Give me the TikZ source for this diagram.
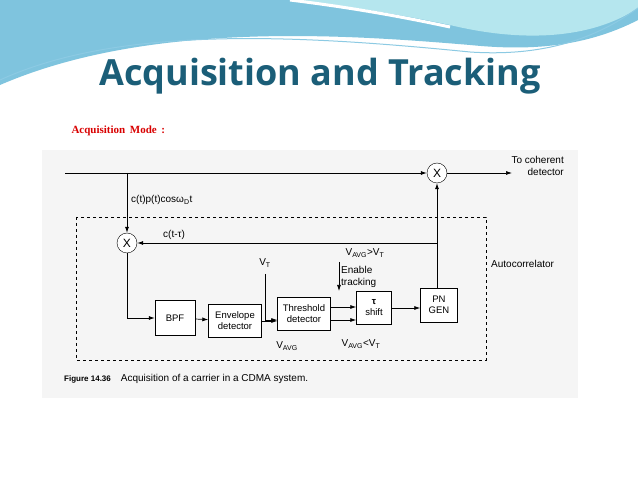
\documentclass[tikz,border=0pt]{standalone}
\usepackage{fontspec}
\setmainfont{Liberation Serif}
\newfontfamily\hv{Liberation Sans}
\newfontfamily\titlef{Open Sans}
\usetikzlibrary{arrows.meta}
\definecolor{titlec}{HTML}{1B5E78}
\definecolor{wave1}{HTML}{7FC4DE}
\definecolor{wave2}{HTML}{B5E6EE}
\newcommand{\sbs}[1]{\textsubscript{#1}}
\begin{document}
\begin{tikzpicture}[x=1pt,y=-1pt,
  blk/.style={draw,fill=white,font=\hv\fontsize{9.5}{11}\selectfont,align=center,inner sep=1pt},
  mix/.style={draw,circle,fill=white,minimum size=20pt,inner sep=0pt,font=\hv\fontsize{12}{12}\selectfont},
  lbl/.style={font=\hv\fontsize{10}{11.5}\selectfont,inner sep=0pt},
  ar/.style={-{Latex[length=6pt,width=4pt]},line width=0.7pt},
  ln/.style={line width=0.7pt}]
\useasboundingbox (0,0) rectangle (638,478);
\fill[white] (0,0) rectangle (638,478);
% header waves
\fill[wave1] (0,0) -- (638,0) -- (638,20) .. controls (580,50) and (520,50) .. (470,45) .. controls (350,35) and (150,20) .. (0,85) -- cycle;
\fill[wave2] (290,0) -- (638,0) -- (638,8) .. controls (590,40) and (520,42) .. (450,25) .. controls (380,10) and (320,3) .. (290,0) -- cycle;
\draw[white,line width=3pt] (290,0) .. controls (330,5) and (380,12) .. (450,27);
\draw[cyan!60!teal!50,line width=1pt] (0,80) .. controls (120,25) and (300,35) .. (470,52) .. controls (560,58) and (610,28) .. (638,8);
\node[font=\titlef\bfseries\fontsize{36}{40}\selectfont,text=titlec] (title) at (320,76) {Acquisition and Tracking};
\node[font=\bfseries\fontsize{11}{13}\selectfont,text=red!85!black,anchor=west] (mode) at (68,131) {Acquisition\, Mode\, :};
% panel
\fill[black!4] (42,150) rectangle (578,398);
\draw[dashed,ln] (76,217) rectangle (486,360);
\node[mix] (m2) at (437,173) {X};
\node[mix] (m1) at (127,243) {X};
\node[blk,minimum width=40pt,minimum height=35pt] (bpf) at (175,318) {BPF};
\node[blk,minimum width=53pt,minimum height=33pt] (env) at (235,321) {Envelope\\detector};
\node[blk,minimum width=53pt,minimum height=33pt] (thr) at (304,314) {Threshold\\detector};
\node[blk,minimum width=35pt,minimum height=33pt] (sh) at (374,308) {{\bfseries τ}\\shift};
\node[blk,minimum width=37pt,minimum height=34pt] (pn) at (439,305) {PN\\GEN};
\coordinate (in) at (65,173);
\coordinate (br) at (127,173);
\coordinate (out) at (512,173);
\coordinate (vt) at (265,274);
\coordinate (en) at (339,262);
\draw[ln] (in) -- (br);
\draw[ar] (br) -- (m2);
\draw[ar] (br) -- (m1);
\draw[ar] (m2) -- (out);
\draw[ar] (m1) |- (bpf);
\draw[ar] (bpf) -- (env);
\draw[ar] (env.east) -- (env.east -| thr.west);
\draw[ar] (vt) |- ([yshift=-6pt]thr.west);
\draw[ar] ([yshift=-6pt]thr.east) -- ([yshift=-6pt]thr.east -| sh.west);
\draw[ar] ([yshift=7pt]thr.east) -- ([yshift=7pt]thr.east -| sh.west);
\draw[ar] (sh.east) -- (sh.east -| pn.west);
\draw[ar] (en) -- (339,291);
\draw[ar] (pn.north -| m2) -- (m2);
\draw[ar] (m2 |- 0,243) -- (m1);
\node[lbl,anchor=east,align=right] (tc) at (564,166) {To coherent\\detector};
\node[lbl,anchor=west] (l1) at (131,200) {c(t)p(t)cosω\sbs{D}t};
\node[lbl,anchor=west] (l2) at (163,235) {c(t-τ)};
\node[lbl,anchor=west] (l3) at (491,264) {Autocorrelator};
\node[lbl] (l4) at (265,263) {V\sbs{T}};
\node[lbl] (l5) at (365,253) {V\sbs{AVG}>V\sbs{T}};
\node[lbl,anchor=west,align=left] (l6) at (341,277) {Enable\\tracking};
\node[lbl] (l7) at (287,346) {V\sbs{AVG}};
\node[lbl] (l8) at (361,344) {V\sbs{AVG}<V\sbs{T}};
\node[lbl,anchor=west] (cap) at (64,379) {{\hv\bfseries\fontsize{8}{9}\selectfont Figure 14.36}\quad{\fontsize{10}{11}\selectfont Acquisition of a carrier in a CDMA system.}};
\end{tikzpicture}
\end{document}
